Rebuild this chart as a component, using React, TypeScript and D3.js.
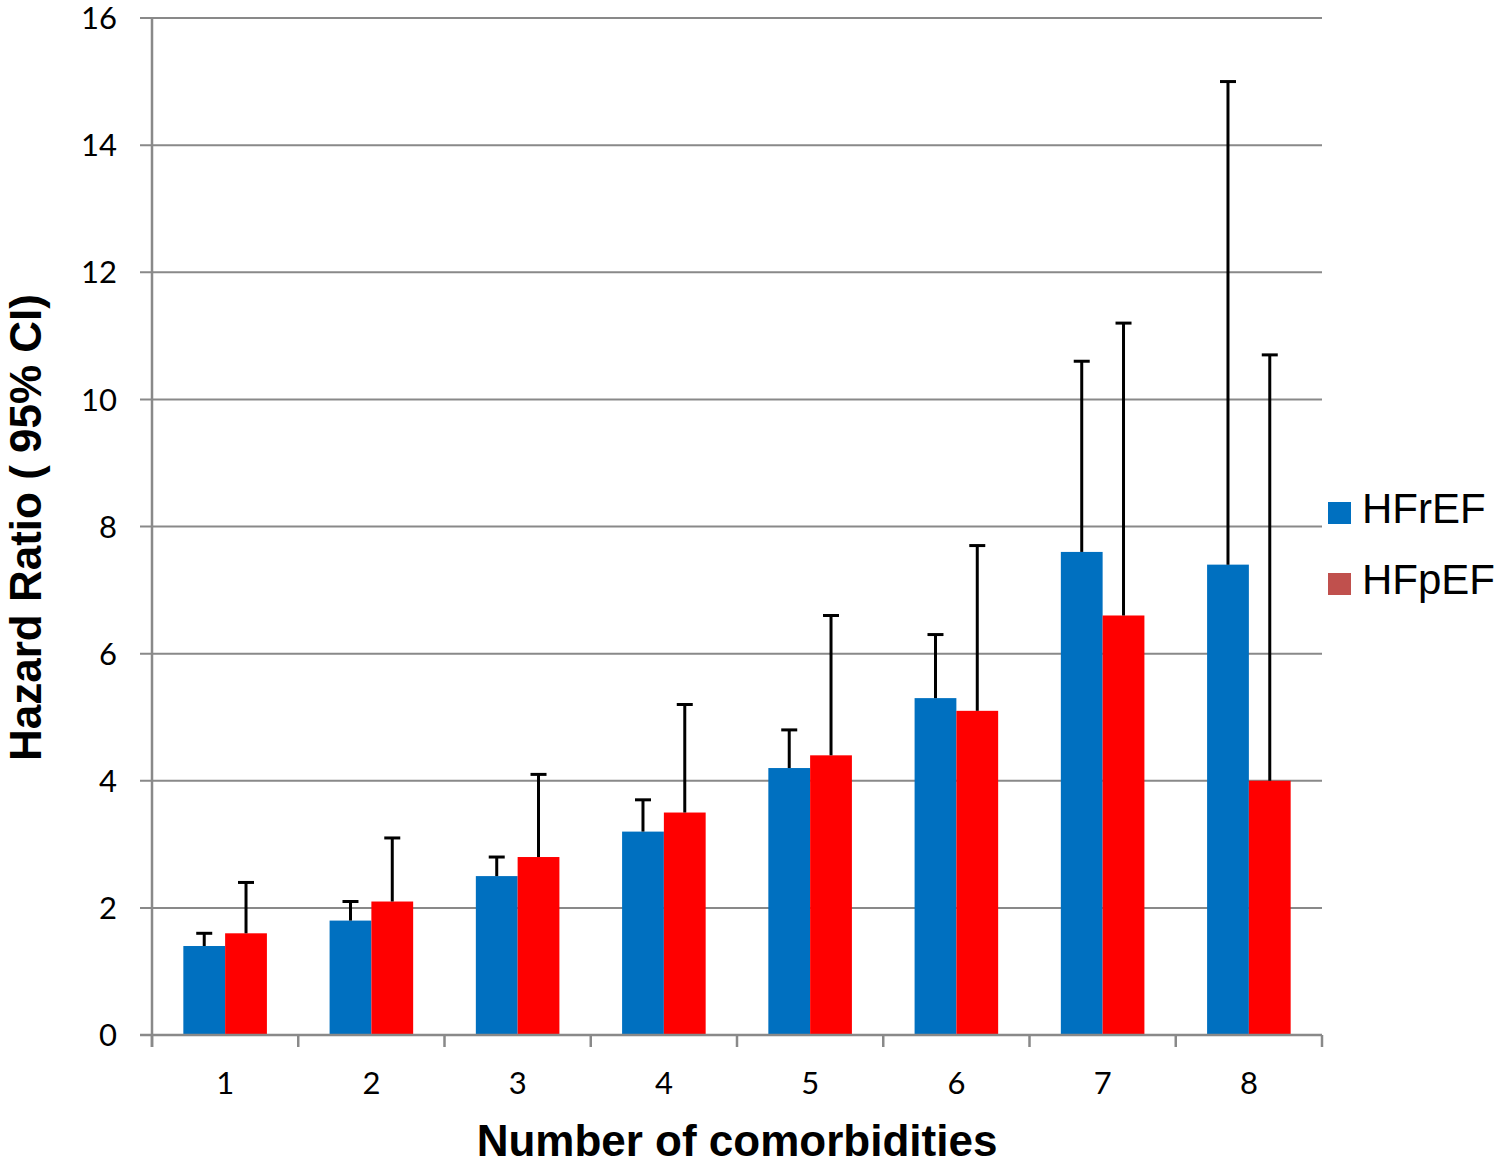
import React from "react";
import * as d3 from "d3";

// chart data
const categories = ["1", "2", "3", "4", "5", "6", "7", "8"];
const seriesNames = ["HFrEF", "HFpEF"];
const hfrefValues = [1.4, 1.8, 2.5, 3.2, 4.2, 5.3, 7.6, 7.4];
const hfpefValues = [1.6, 2.1, 2.8, 3.5, 4.4, 5.1, 6.6, 4.0];
const hfrefUpper = [1.6, 2.1, 2.8, 3.7, 4.8, 6.3, 10.6, 15.0];
const hfpefUpper = [2.4, 3.1, 4.1, 5.2, 6.6, 7.7, 11.2, 10.7];
const yTicks = [0, 2, 4, 6, 8, 10, 12, 14, 16];

const barColors: Record<string, string> = { HFrEF: "#0070C0", HFpEF: "#FF0000" };
const legendColors: Record<string, string> = { HFrEF: "#0070C0", HFpEF: "#C0504D" };

const W = 1500;
const H = 1173;
const margin = { top: 18, right: 178, bottom: 138, left: 152 };
const gridColor = "#898989";
const tickFont = "Lato, 'Open Sans', sans-serif";
const titleFont = "'Liberation Sans', Arial, sans-serif";

const App: React.FC = () => {
    const plotW = W - margin.left - margin.right;
    const plotH = H - margin.top - margin.bottom;

    const x0 = d3.scaleBand<string>()
        .domain(categories)
        .range([margin.left, margin.left + plotW])
        .padding(0);

    // Excel-style gap width of 150%: two bars + 1.5 bar widths of gap per group
    const bw = x0.bandwidth();
    const barW = bw / 3.5;
    const x1 = d3.scaleBand<string>()
        .domain(seriesNames)
        .range([(bw - 2 * barW) / 2, (bw + 2 * barW) / 2])
        .padding(0);

    const y = d3.scaleLinear()
        .domain([0, 16])
        .range([margin.top + plotH, margin.top]);

    const rows = categories.map((c, i) => ({
        cat: c,
        bars: [
            { key: "HFrEF", value: hfrefValues[i], upper: hfrefUpper[i] },
            { key: "HFpEF", value: hfpefValues[i], upper: hfpefUpper[i] }
        ]
    }));

    const y0 = y(0);
    const boundaries = categories.map(c => x0(c) || 0).concat([margin.left + plotW]);

    return (
        <svg
            width={W}
            height={H}
            style={{ position: "absolute", left: 0, top: 0, background: "#fff" }}
        >
            {/* gridlines + y ticks */}
            {yTicks.map(t => (
                <g key={t}>
                    <line
                        x1={margin.left - 12}
                        x2={margin.left + plotW}
                        y1={y(t)}
                        y2={y(t)}
                        stroke={gridColor}
                        strokeWidth={2}
                    />
                    <text
                        x={117}
                        y={y(t)}
                        dy="0.36em"
                        textAnchor="end"
                        fontFamily={tickFont}
                        fontSize={31}
                        fill="#000"
                    >
                        {t}
                    </text>
                </g>
            ))}

            {/* y axis line */}
            <line
                x1={margin.left}
                x2={margin.left}
                y1={margin.top}
                y2={y0 + 12}
                stroke={gridColor}
                strokeWidth={2.5}
            />

            {/* x axis boundary ticks */}
            {boundaries.map((bx, i) => (
                <line
                    key={i}
                    x1={bx}
                    x2={bx}
                    y1={y0}
                    y2={y0 + 12}
                    stroke={gridColor}
                    strokeWidth={2.5}
                />
            ))}

            {/* bars */}
            {rows.map(r => (
                <g key={r.cat} transform={`translate(${x0(r.cat)},0)`}>
                    {r.bars.map(b => (
                        <rect
                            key={b.key}
                            x={x1(b.key)}
                            y={y(b.value)}
                            width={x1.bandwidth()}
                            height={y0 - y(b.value)}
                            fill={barColors[b.key]}
                        />
                    ))}
                </g>
            ))}

            {/* x axis line drawn over bar bottoms */}
            <line
                x1={margin.left - 12}
                x2={margin.left + plotW}
                y1={y0}
                y2={y0}
                stroke={gridColor}
                strokeWidth={2.5}
            />

            {/* error bars (upper only) */}
            {rows.map(r => (
                <g key={"e" + r.cat} transform={`translate(${x0(r.cat)},0)`}>
                    {r.bars.map(b => {
                        const cx = (x1(b.key) || 0) + x1.bandwidth() / 2;
                        return (
                            <g key={b.key} stroke="#000" strokeWidth={3}>
                                <line x1={cx} x2={cx} y1={y(b.value)} y2={y(b.upper)} />
                                <line x1={cx - 8} x2={cx + 8} y1={y(b.upper)} y2={y(b.upper)} />
                            </g>
                        );
                    })}
                </g>
            ))}

            {/* x tick labels */}
            {categories.map(c => (
                <text
                    key={c}
                    x={(x0(c) || 0) + bw / 2}
                    y={1094}
                    textAnchor="middle"
                    fontFamily={tickFont}
                    fontSize={31}
                    fill="#000"
                >
                    {c}
                </text>
            ))}

            {/* axis titles */}
            <text
                x={737}
                y={1156}
                textAnchor="middle"
                fontFamily={titleFont}
                fontWeight="bold"
                fontSize={44}
                fill="#000"
            >
                Number of comorbidities
            </text>
            <text
                transform={`translate(41,${(295 + 760) / 2}) rotate(-90)`}
                textAnchor="middle"
                fontFamily={titleFont}
                fontWeight="bold"
                fontSize={44}
                fill="#000"
            >
                Hazard Ratio ( 95% CI)
            </text>

            {/* legend */}
            {seriesNames.map((s, i) => (
                <g key={s} transform={`translate(1328,${502 + i * 71})`}>
                    <rect width={23} height={22} fill={legendColors[s]} />
                    <text
                        x={34}
                        y={21}
                        fontFamily={titleFont}
                        fontSize={42}
                        fill="#000"
                    >
                        {s}
                    </text>
                </g>
            ))}
        </svg>
    );
};

export default App;
